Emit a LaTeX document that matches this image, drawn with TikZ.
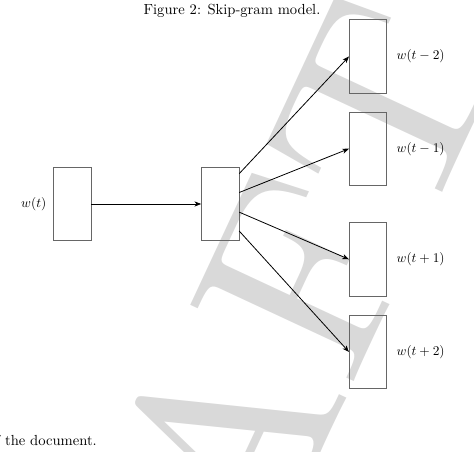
\documentclass[tikz,border=0pt]{standalone}
\usetikzlibrary{positioning,calc,arrows.meta}
\font\wmfont=cmr10 at 199pt
\begin{document}
\begin{tikzpicture}[x=0.75pt,y=0.75pt,
        vec/.style={draw=black!60,line width=0.5pt,minimum width=28pt,minimum height=55pt,inner sep=0pt},
        lbl/.style={inner sep=0pt,font=\fontsize{9.6}{11.5}\selectfont},
        flow/.style={semithick,-{Stealth[length=5pt,width=3.8pt,inset=1.4pt]}}]
    \useasboundingbox (0,0) rectangle (474,452);
    %% watermark
    \node[rotate=65,anchor=base west,inner sep=0pt,text=black!15,font=\wmfont] (D) at (98,-479) {DRAFT};
    %% caption and page text
    \node[anchor=base,inner sep=0pt,font=\fontsize{10.95}{13.6}\selectfont] (cap) at (232,437) {Figure 2: Skip-gram model.};
    \node[anchor=base east,inner sep=0pt,font=\fontsize{10.95}{13.6}\selectfont] (txt) at (97,6) {of the document.};
    %% input, projection and output vectors
    \node[vec] (I) at (72.2,248) {};
    \node[vec] (P) at (220.2,248) {};
    \foreach \i/\y in {1/395.5,2/303.3,3/192.7,4/100}
        \node[vec] (O\i) at (368,\y) {};
    %% labels
    \node[lbl,left=5pt of I] (wI) {$w(t)$};
    \node[lbl,right=7pt of O1] (w1) {$w(t-2)$};
    \node[lbl,right=7pt of O2] (w2) {$w(t-1)$};
    \node[lbl,right=7pt of O3] (w3) {$w(t+1)$};
    \node[lbl,right=7pt of O4] (w4) {$w(t+2)$};
    %% connectors
    \draw[flow] (I.east) -- (P.west);
    \foreach \i/\f in {1/0.09,2/0.345,3/0.61,4/0.865}
        \draw[flow] ($(P.north east)!\f!(P.south east)$) -- (O\i.west);
\end{tikzpicture}
\end{document}
